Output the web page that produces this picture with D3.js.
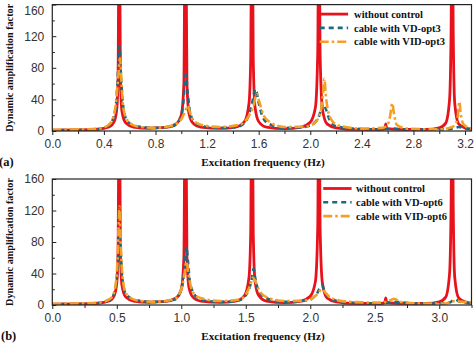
<!DOCTYPE html>
<html>
<head>
<meta charset="utf-8">
<script src="https://cdn.jsdelivr.net/npm/d3@7"></script>
<style>
  html, body { margin: 0; padding: 0; background: #fff; }
  svg { display: block; }
  .tick text { font-family: "Liberation Sans", Arial, sans-serif; font-size: 12px; fill: #333; }
  .serif { font-family: "Liberation Serif", "Times New Roman", serif; font-weight: bold; fill: #111; }
</style>
</head>
<body>
<svg id="chart" width="474" height="345"></svg>
<script>
// Frequency response: dynamic amplification factor vs excitation frequency (Hz)

// Uncontrolled cable (same in both panels), [frequency, factor]
const withoutControl = [
  [0,1],[0.2,1.3],[0.35,2.2],[0.44,5],[0.48,12],[0.5,28],[0.51,70],[0.519,320],[0.528,70],[0.54,25],[0.57,10],[0.63,5],
  [0.75,3.5],[0.88,4.5],[0.96,9],[1.0,20],[1.02,60],[1.032,320],[1.044,60],[1.06,22],[1.09,10],[1.15,5],
  [1.3,3.5],[1.42,5],[1.49,12],[1.525,35],[1.538,90],[1.548,320],[1.558,90],[1.572,30],[1.6,12],[1.66,5],
  [1.8,3],[1.93,5],[2.0,11],[2.04,30],[2.058,100],[2.067,320],[2.076,100],[2.094,28],[2.13,9],[2.2,4],
  [2.35,2],[2.55,2],[2.578,3],[2.585,9],[2.592,3],[2.7,2],[2.9,2],[3.0,4],[3.05,10],[3.08,40],
  [3.092,130],[3.1,320],[3.108,130],[3.12,35],[3.15,9],[3.2,4],[3.25,2.5]
];

// Panel (a): cable with VD-opt3 and VID-opt3
const vdOpt3 = [
  [0,1],[0.2,1.3],[0.35,2.3],[0.43,6],[0.47,15],[0.495,35],[0.508,70],[0.52,108],[0.532,72],[0.545,38],[0.57,16],[0.63,7],
  [0.8,4],[0.93,6],[0.99,15],[1.015,35],[1.035,72],[1.05,48],[1.07,22],[1.11,10],[1.2,5],
  [1.35,4],[1.45,6],[1.51,15],[1.545,32],[1.575,53],[1.6,36],[1.63,18],[1.68,9],[1.8,4],
  [1.95,5],[2.03,10],[2.07,20],[2.1,35],[2.12,28],[2.15,14],[2.2,6],[2.35,3],
  [2.55,2],[2.64,3],[2.75,2],[3.0,2],[3.1,3],[3.15,5],[3.2,3],[3.25,2]
];
const vidOpt3 = [
  [0,1.5],[0.2,2],[0.35,2.8],[0.43,7],[0.47,16],[0.495,38],[0.512,70],[0.525,92],[0.537,60],[0.55,30],[0.58,14],[0.65,6],
  [0.8,4],[0.93,7],[1.0,15],[1.03,25],[1.05,32],[1.065,25],[1.09,14],[1.15,8],
  [1.3,5],[1.45,8],[1.52,18],[1.56,32],[1.585,47],[1.605,37],[1.635,21],[1.68,12],[1.8,5],
  [1.98,6],[2.05,13],[2.085,28],[2.1,50],[2.11,66],[2.12,46],[2.135,28],[2.165,14],[2.22,7],[2.4,3],
  [2.56,4],[2.6,8],[2.62,20],[2.635,35],[2.65,21],[2.67,8],[2.75,3],[3.0,2],
  [3.1,5],[3.14,14],[3.155,37],[3.167,21],[3.19,8],[3.25,3]
];

// Panel (b): cable with VD-opt6 and VID-opt6
const vdOpt6 = [
  [0,1],[0.2,1.3],[0.35,2.3],[0.45,7],[0.485,18],[0.505,45],[0.514,75],[0.521,96],[0.53,70],[0.542,35],[0.57,14],[0.65,6],
  [0.8,4],[0.95,7],[1.0,20],[1.025,45],[1.04,74],[1.052,55],[1.07,26],[1.12,10],[1.2,5],
  [1.35,4],[1.45,6],[1.51,15],[1.545,32],[1.56,46],[1.575,32],[1.6,18],[1.65,9],[1.8,4],
  [1.98,6],[2.05,14],[2.09,25],[2.11,18],[2.15,9],[2.25,4],[2.5,2],
  [2.6,3],[2.65,4],[2.8,2],[3.0,2],[3.08,3],[3.12,7],[3.16,4],[3.25,2]
];
const vidOpt6 = [
  [0,1.5],[0.2,2],[0.35,2.8],[0.45,8],[0.485,20],[0.505,55],[0.514,100],[0.521,125],[0.53,80],[0.542,40],[0.57,15],[0.65,6],
  [0.8,4],[0.95,8],[1.0,20],[1.025,40],[1.04,55],[1.055,40],[1.08,20],[1.13,10],
  [1.3,5],[1.45,7],[1.51,16],[1.54,28],[1.555,35],[1.575,30],[1.6,20],[1.66,10],[1.8,5],
  [1.98,6],[2.05,13],[2.09,20],[2.12,15],[2.16,9],[2.3,4],[2.55,3],
  [2.62,6],[2.65,8],[2.7,4],[2.85,2],[3.05,2],[3.12,5],[3.18,4],[3.25,3]
];

// Axis ticks
const xTicksA = [0, 0.4, 0.8, 1.2, 1.6, 2.0, 2.4, 2.8, 3.2];
const xMinorA = [0.2, 0.6, 1.0, 1.4, 1.8, 2.2, 2.6, 3.0];
const xTicksB = [0, 0.5, 1.0, 1.5, 2.0, 2.5, 3.0];
const xMinorB = [0.25, 0.75, 1.25, 1.75, 2.25, 2.75, 3.25];
const yTicks = [0, 40, 80, 120, 160];
const yMinor = [20, 60, 100, 140];

const legendA = ["without control", "cable with VD-opt3", "cable with VID-opt3"];
const legendB = ["without control", "cable with VD-opt6", "cable with VID-opt6"];
const panelTags = ["(a)", "(b)"];
const xTitle = "Excitation frequency (Hz)";
const yTitle = "Dynamic amplification factor";

const colors = ["#e8121c", "#1c6a80", "#f5a024"];
const dashes = [null, "5,4", "9,3,2.5,3"];
const widths = [2.8, 2.6, 2.6];

const svg = d3.select("#chart");
const left = 52.3, right = 471.5;

function panel(idx, top, bottom, series, legend, xTicks, xMinor) {
  const x = d3.scaleLinear().domain([0, 3.25]).range([left, right]);
  const y = d3.scaleLinear().domain([0, 160]).range([bottom, top]);
  const g = svg.append("g");

  const clipId = "clip" + idx;
  svg.append("clipPath").attr("id", clipId)
    .append("rect").attr("x", left).attr("y", top).attr("width", right - left).attr("height", bottom - top);

  const line = d3.line().x(d => x(d[0])).y(d => y(d[1])).curve(d3.curveMonotoneX);
  const lines = g.append("g").attr("clip-path", `url(#${clipId})`);
  series.forEach((s, i) => {
    lines.append("path").datum(s)
      .attr("d", line)
      .attr("fill", "none")
      .attr("stroke", colors[i])
      .attr("stroke-width", widths[i])
      .attr("stroke-dasharray", dashes[i])
      .attr("stroke-linejoin", "round");
  });

  // x axis: labelled ticks plus minor ticks
  const xa = g.append("g").attr("transform", `translate(0,${bottom})`)
    .call(d3.axisBottom(x).tickValues(xTicks).tickFormat(d3.format(".1f")).tickSize(4).tickPadding(4));
  xa.select(".domain").remove();
  xa.selectAll("line").attr("stroke", "#222");
  g.append("g").attr("transform", `translate(0,${bottom})`)
    .call(d3.axisBottom(x).tickValues(xMinor).tickFormat("").tickSize(3))
    .call(a => a.select(".domain").remove())
    .selectAll("line").attr("stroke", "#222");

  // y axis: ticks drawn inward; the top label is nudged to stay inside the page
  const ya = g.append("g").attr("transform", `translate(${left},0)`)
    .call(d3.axisLeft(y).tickValues(yTicks).tickSize(-4).tickPadding(8));
  ya.select(".domain").remove();
  ya.selectAll("line").attr("stroke", "#222");
  ya.selectAll(".tick text").filter(d => d === 160 && idx === 0).attr("dy", "0.82em");
  g.append("g").attr("transform", `translate(${left},0)`)
    .call(d3.axisLeft(y).tickValues(yMinor).tickFormat("").tickSize(-2.5))
    .call(a => a.select(".domain").remove())
    .selectAll("line").attr("stroke", "#222");

  // frame
  g.append("rect").attr("x", left).attr("y", top).attr("width", right - left).attr("height", bottom - top)
    .attr("fill", "none").attr("stroke", "#222").attr("stroke-width", 1.2);

  // legend
  const lg = g.append("g");
  const lineShift = idx ? 6.5 : 3;
  const textGap = idx ? 4.5 : 6;
  legend.forEach((t, i) => {
    const ly = top + 9.5 + i * 13.8;
    const x1 = x(2.05) + lineShift, x2 = x(2.27) + lineShift;
    lg.append("line")
      .attr("x1", x1).attr("x2", x2)
      .attr("y1", ly).attr("y2", ly)
      .attr("stroke", colors[i]).attr("stroke-width", widths[i])
      .attr("stroke-dasharray", dashes[i]);
    lg.append("text").attr("class", "serif")
      .attr("x", x2 + textGap).attr("y", ly + 3.7)
      .attr("font-size", 10.5).text(t);
  });

  // titles
  g.append("text").attr("class", "serif")
    .attr("transform", `translate(13,${(top + bottom) / 2}) rotate(-90)`)
    .attr("text-anchor", "middle").attr("font-size", 10.2).text(yTitle);
  g.append("text").attr("class", "serif")
    .attr("x", 263).attr("y", bottom + 35).attr("text-anchor", "middle")
    .attr("font-size", 11.2).text(xTitle);
  g.append("text").attr("class", "serif")
    .attr("x", idx ? 1 : -1).attr("y", bottom + 35).attr("font-size", 12.5).text(panelTags[idx]);
}

panel(0, 4.6, 131, [withoutControl, vdOpt3, vidOpt3], legendA, xTicksA, xMinorA);
panel(1, 179, 305, [withoutControl, vdOpt6, vidOpt6], legendB, xTicksB, xMinorB);
</script>
</body>
</html>
